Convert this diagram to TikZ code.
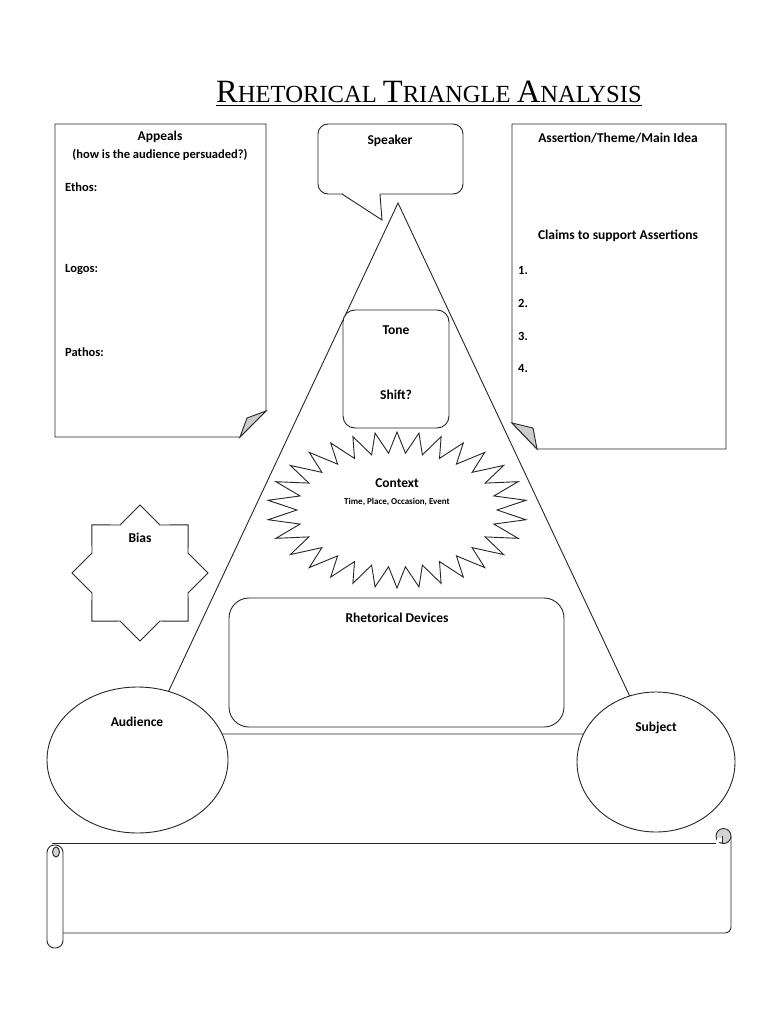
\documentclass[tikz,border=0pt]{standalone}
\usepackage{fontspec}
\setmainfont{Carlito}
\newfontfamily\titlefont{Liberation Serif}
\usetikzlibrary{shapes.geometric}
\newcommand{\bigLt}[1]{{\fontsize{32.5}{34}\selectfont #1}}
\newcommand{\smLt}[1]{{\fontsize{24.6}{34}\selectfont #1}}
\newcommand{\spLt}{{\fontsize{24.6}{34}\selectfont\ }}
\tikzset{
 ln/.style={draw=black!85, line width=0.9pt},
 box/.style={ln, fill=white},
 fold/.style={ln, fill=gray!40},
 hd/.style={font=\bfseries\fontsize{13.5}{15}\selectfont, inner sep=0pt},
 tx/.style={font=\bfseries\fontsize{12.5}{14}\selectfont, inner sep=0pt},
 sm/.style={font=\bfseries\fontsize{9}{10}\selectfont, inner sep=0pt},
}
\begin{document}
\begin{tikzpicture}[x=1pt,y=-1pt]
\useasboundingbox (0,0) rectangle (768,1024);
\fill[white] (0,0) rectangle (768,1024);

% title
\node[inner sep=0pt, anchor=base, font=\titlefont] (title) at (429,103)
  {\bigLt{R}\smLt{HETORICAL}\spLt\bigLt{T}\smLt{RIANGLE}\spLt\bigLt{A}\smLt{NALYSIS}};
\draw[line width=1.7pt] ([yshift=-2.5pt]title.base west) -- ([yshift=-2.5pt]title.base east);

% triangle
\coordinate (apex) at (398,203);
\coordinate (tl) at (148.5,734);
\coordinate (tr) at (647.5,734);
\draw[ln] (apex) -- (tl) -- (tr) -- cycle;

% speaker callout
\node[box, rounded corners=10pt, minimum width=145pt, minimum height=70pt] (speaker) at (390.5,159) {};
\coordinate (tailA) at (342,194);
\coordinate (tailB) at (382,220);
\coordinate (tailC) at (380,194);
\fill[white] (343,192.5) rectangle (379.5,196);
\draw[ln, fill=white, line join=miter] (tailA) -- (tailB) -- (tailC);
\node[hd] (speakerl) at (390,141) {Speaker};

% left note
\draw[box] (55,124) -- (266,124) -- (266,411) -- (240,437) -- (55,437) -- cycle;
\draw[fold] (266,411) -- (247,418) -- (240,437) -- cycle;
\node[hd] (appeals) at (160,137) {Appeals};
\node[tx] (appsub) at (160,155) {(how is the audience persuaded?)};
\node[tx, anchor=west] (ethos) at (65,187) {Ethos:};
\node[tx, anchor=west] (logos) at (65,270) {Logos:};
\node[tx, anchor=west] (pathos) at (65,352) {Pathos:};

% right note
\draw[box] (512,124) -- (726,124) -- (726,449) -- (537,449) -- (512,423) -- cycle;
\draw[fold] (512,423) -- (533,428) -- (537,449) -- cycle;
\node[hd] (assert) at (618,138) {Assertion/Theme/Main Idea};
\node[hd] (claims) at (618,236) {Claims to support Assertions};
\node[tx, anchor=west] (c1) at (518,270) {1.};
\node[tx, anchor=west] (c2) at (518,303) {2.};
\node[tx, anchor=west] (c3) at (518,336) {3.};
\node[tx, anchor=west] (c4) at (518,368) {4.};

% tone
\node[box, rounded corners=12pt, minimum width=106pt, minimum height=118pt] (tone) at (396,369) {};
\node[hd] (tonel) at (396,330) {Tone};
\node[hd] (shift) at (396,395) {Shift?};

% context starburst
\begin{scope}[shift={(397,510)}]
\draw[box, line join=miter] (0,78)
  \foreach \i [evaluate=\i as \th using {90+\i*6+5.6*sin(2*(90+\i*6))},
               evaluate=\i as \rx using {ifthenelse(mod(\i,2)==0,130,100)},
               evaluate=\i as \ry using {ifthenelse(mod(\i,2)==0,78,57)}] in {1,...,59}
  { -- ({\rx*cos(\th)},{\ry*sin(\th)}) } -- cycle;
\end{scope}
\node[hd] (context) at (397,483) {Context};
\node[sm] (contextsub) at (397,502) {Time, Place, Occasion, Event};

% bias star
\begin{scope}[shift={(140,573)}]
\draw[box, line join=miter] (90:68)
  \foreach \i [evaluate=\i as \r using {ifthenelse(mod(\i,2)==0,68,52)}] in {1,...,15}
  { -- ({90+\i*22.5}:\r) } -- cycle;
\end{scope}
\node[hd] (bias) at (140,538) {Bias};

% rhetorical devices
\node[box, rounded corners=20pt, minimum width=335pt, minimum height=129pt] (devices) at (396.5,662.5) {};
\node[hd] (devicesl) at (397,618) {Rhetorical Devices};

% audience and subject
\node[box, ellipse, inner sep=0pt, minimum width=181pt, minimum height=146pt] (audience) at (137.5,760) {};
\node[hd] (audiencel) at (137,722) {Audience};
\node[box, ellipse, inner sep=0pt, minimum width=158pt, minimum height=140pt] (subject) at (656,762) {};
\node[hd] (subjectl) at (656,728) {Subject};

% scroll
\draw[ln, rounded corners=6pt] (731,836) -- (731,933) -- (63,933);
\draw[ln] (52,843) -- (716,843);
\draw[ln, fill=gray!35] (723.5,836) circle (7.5);
\fill[white] (716.6,837.5) rectangle (721.6,842.4);
\draw[ln] (722,843) -- (722,836);
\draw[box, rounded corners=7.5pt] (47,845) rectangle (63,948);
\draw[ln, fill=gray!35] (56,852) ellipse (3.5 and 5);
\end{tikzpicture}
\end{document}
